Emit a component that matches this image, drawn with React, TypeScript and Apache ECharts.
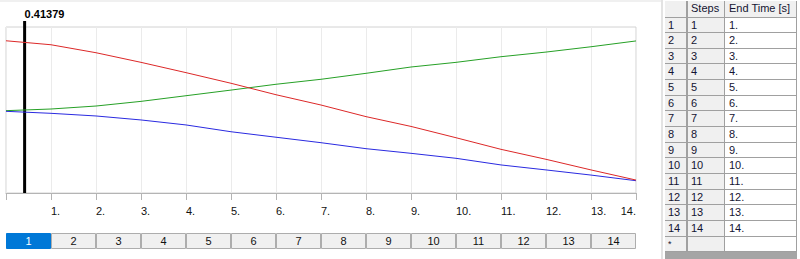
import React, { useEffect, useRef } from "react";
import * as echarts from "echarts";

// ---- data ----
const times = [0, 1, 2, 3, 4, 5, 6, 7, 8, 9, 10, 11, 12, 13, 14];
const redValues = [0.917, 0.893, 0.845, 0.787, 0.725, 0.661, 0.592, 0.53, 0.46, 0.401, 0.333, 0.263, 0.203, 0.139, 0.078];
const greenValues = [0.496, 0.506, 0.524, 0.552, 0.586, 0.62, 0.655, 0.685, 0.721, 0.759, 0.787, 0.821, 0.849, 0.881, 0.916];
const blueValues = [0.492, 0.48, 0.464, 0.44, 0.41, 0.369, 0.336, 0.303, 0.267, 0.239, 0.209, 0.169, 0.139, 0.108, 0.074];
const cursorTime = 0.41379;
const steps = [1, 2, 3, 4, 5, 6, 7, 8, 9, 10, 11, 12, 13, 14];
const endTimes = [1, 2, 3, 4, 5, 6, 7, 8, 9, 10, 11, 12, 13, 14];
const selectedStep = 1;

const FONT = "'Liberation Sans', Arial, sans-serif";

function pairs(vals: number[]) {
  return times.map((t, i) => [t, vals[i]]);
}

function Chart() {
  const ref = useRef<HTMLDivElement>(null);
  useEffect(() => {
    if (!ref.current) return;
    const chart = echarts.init(ref.current, undefined, { renderer: "svg" });
    chart.setOption({
      animation: false,
      textStyle: { fontFamily: FONT },
      grid: [
        { left: 6, right: 164, top: 27, bottom: 66, show: true, borderColor: "#d2d2d2", borderWidth: 1 },
        { left: 6, right: 164, top: 233, height: 16 },
      ],
      xAxis: [
        {
          type: "value",
          gridIndex: 0,
          min: 0,
          max: 14,
          interval: 1,
          axisLine: { show: true, lineStyle: { color: "#b4b4b4", width: 1 } },
          axisTick: { show: true, length: 7, lineStyle: { color: "#b4b4b4" } },
          splitLine: { show: true, lineStyle: { color: "#ebebeb", width: 1 } },
          axisLabel: {
            show: true,
            margin: 12,
            fontSize: 11,
            color: "#111",
            align: "left",
            alignMaxLabel: "right",
            formatter: (v: number) => (v === 0 ? "" : `${v}.`),
          },
        },
        {
          type: "category",
          gridIndex: 1,
          data: steps.map(String),
          boundaryGap: true,
          axisLine: { show: false },
          axisTick: { show: false },
          axisLabel: { show: false },
          splitLine: { show: false },
        },
      ],
      yAxis: [
        { type: "value", gridIndex: 0, min: 0, max: 1, show: false, splitLine: { show: false } },
        { type: "value", gridIndex: 1, min: 0, max: 1, show: false, splitLine: { show: false } },
      ],
      series: [
        {
          type: "line",
          xAxisIndex: 0,
          yAxisIndex: 0,
          data: pairs(greenValues),
          symbol: "none",
          lineStyle: { color: "#26a026", width: 1 },
        },
        {
          type: "line",
          xAxisIndex: 0,
          yAxisIndex: 0,
          data: pairs(blueValues),
          symbol: "none",
          lineStyle: { color: "#2a2ae0", width: 1 },
        },
        {
          type: "line",
          xAxisIndex: 0,
          yAxisIndex: 0,
          data: pairs(redValues),
          symbol: "none",
          lineStyle: { color: "#dc2828", width: 1 },
        },
        {
          type: "custom",
          xAxisIndex: 0,
          yAxisIndex: 0,
          clip: false,
          silent: true,
          data: [[cursorTime]],
          renderItem: (_params: any, api: any) => {
            const t = api.value(0);
            const p0 = api.coord([t, 0]);
            const p1 = api.coord([t, 1.036]);
            return {
              type: "group",
              children: [
                {
                  type: "line",
                  shape: { x1: p0[0], y1: p0[1], x2: p1[0], y2: p1[1] },
                  style: { stroke: "#000", lineWidth: 3 },
                },
                {
                  type: "text",
                  x: p1[0],
                  y: p1[1] - 2,
                  style: {
                    text: String(t),
                    align: "left",
                    verticalAlign: "bottom",
                    fontSize: 11,
                    fontWeight: "bold",
                    fontFamily: FONT,
                    fill: "#000",
                  },
                },
              ],
            };
          },
        },
        {
          type: "bar",
          xAxisIndex: 1,
          yAxisIndex: 1,
          barWidth: "100%",
          barCategoryGap: 0,
          data: steps.map((s) => ({
            value: 1,
            itemStyle: {
              color: s === selectedStep ? "#0078d7" : "#f0f0f0",
              borderColor: s === selectedStep ? "#0078d7" : "#adadad",
              borderWidth: 1,
            },
            label: { color: s === selectedStep ? "#fff" : "#111" },
          })),
          label: {
            show: true,
            position: "inside",
            fontSize: 11,
            fontFamily: FONT,
            formatter: (p: any) => p.name,
          },
        },
      ],
    });
    return () => chart.dispose();
  }, []);
  return <div ref={ref} style={{ position: "absolute", left: 0, top: 0, width: 800, height: 259 }} />;
}

function Table() {
  const headerH = 16.5;
  const rowH = 15.65;
  const cols = [
    { left: 0, width: 23, bg: "#f0f0f0" },
    { left: 23, width: 37, bg: "#f0f0f0" },
    { left: 60, width: 72, bg: "#ffffff" },
  ];
  const rows: string[][] = [["", "Steps", "End Time [s]"]];
  steps.forEach((s, i) => rows.push([String(s), String(s), `${endTimes[i]}.`]));
  rows.push(["*", "", ""]);
  const cells: React.ReactNode[] = [];
  rows.forEach((r, ri) => {
    const top = ri === 0 ? 0 : headerH + (ri - 1) * rowH;
    const h = ri === 0 ? headerH : rowH;
    r.forEach((txt, ci) => {
      const c = cols[ci];
      const bg = ri === 0 ? "#f0f0f0" : c.bg;
      cells.push(
        <div
          key={`${ri}-${ci}`}
          style={{
            position: "absolute",
            left: c.left,
            top,
            width: c.width,
            height: h,
            boxSizing: "border-box",
            background: bg,
            borderRight: ci === 0 ? "2px solid #a0a0a0" : "1px solid #a0a0a0",
            borderBottom: "1px solid #a0a0a0",
            fontSize: ri === 15 ? 9 : 11,
            lineHeight: `${h - 1}px`,
            paddingLeft: ci === 2 ? 4 : 3,
            color: "#141432",
            whiteSpace: "nowrap",
            overflow: "hidden",
          }}
        >
          {txt}
        </div>
      );
    });
  });
  const tableH = headerH + (rows.length - 1) * rowH;
  return (
    <div style={{ position: "absolute", left: 665, top: 1, width: 132, height: 258, fontFamily: FONT }}>
      <div style={{ position: "absolute", left: 0, top: 0, width: 132, height: tableH, borderLeft: "1px solid #c8c8c8", boxSizing: "border-box" }} />
      {cells}
      <div style={{ position: "absolute", left: 0, top: tableH, width: 132, height: 258 - tableH, background: "#a5a5a5" }} />
    </div>
  );
}

export default function App() {
  return (
    <div style={{ position: "fixed", left: 0, top: 0, width: 800, height: 259, background: "#fff", overflow: "hidden", fontFamily: FONT }}>
      <Chart />
      <div style={{ position: "absolute", left: 0, top: 0, width: 661, height: 2, background: "#f0f0f0" }} />
      <div style={{ position: "absolute", left: 661, top: 0, width: 2, height: 259, background: "#e3e3e3" }} />
      <Table />
    </div>
  );
}
